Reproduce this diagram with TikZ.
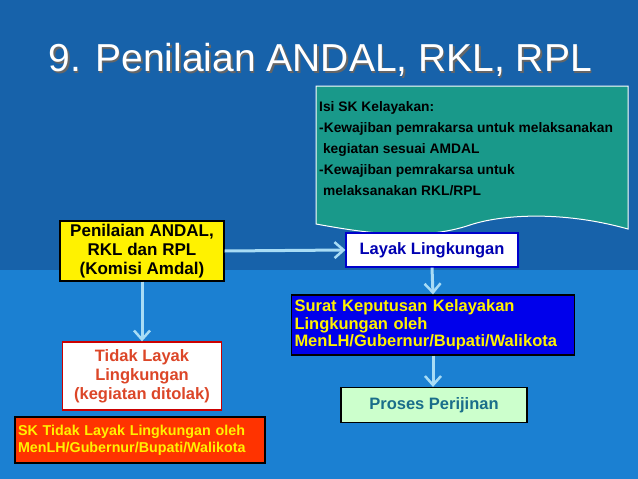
\documentclass[tikz,border=0pt]{standalone}
\usepackage{fontspec}
\setmainfont{Liberation Sans}
\usetikzlibrary{arrows.meta}
\definecolor{bgtop}{HTML}{1762AA}
\definecolor{bgbot}{HTML}{1B80D2}
\definecolor{arr}{HTML}{A8DCF5}
\definecolor{teal}{HTML}{19998A}
\definecolor{prosest}{HTML}{1A6E8A}
\begin{document}
\begin{tikzpicture}[x=1pt,y=-1pt,
  box/.style={draw,line width=1.2pt,inner sep=3pt},
  conn/.style={draw=arr,line width=3pt,-{Straight Barb[length=9pt,width=16pt,line width=2.5pt]}}]
\useasboundingbox (0,0) rectangle (638,479);
\fill[bgtop] (0,0) rectangle (638,270);
\fill[bgbot] (0,270) rectangle (638,479);
\node[anchor=west,text=black!60,font=\fontsize{39}{42}\selectfont] at (46.5,62) {9. Penilaian ANDAL, RKL, RPL};
\node[anchor=west,text=white,font=\fontsize{39}{42}\selectfont] (title) at (45,60) {9. Penilaian ANDAL, RKL, RPL};
\draw[fill=teal,draw=white,line width=1pt] (316,86) -- (628,86) -- (628,229)
  .. controls (560,210) and (500,215) .. (470,225) .. controls (420,242) and (360,232) .. (316,224) -- cycle;
\node[anchor=north west,align=left,font=\bfseries\fontsize{13.8}{21}\selectfont,text=black,inner sep=0pt] (doc) at (319,101)
  {Isi SK Kelayakan:\\-Kewajiban pemrakarsa untuk melaksanakan\\\ kegiatan sesuai AMDAL\\-Kewajiban pemrakarsa untuk\\\ melaksanakan RKL/RPL};
\node[box,fill=yellow,draw=black,align=center,minimum width=164pt,minimum height=60pt,font=\bfseries\fontsize{17}{19}\selectfont] (pen) at (142,251) {Penilaian ANDAL,\\RKL dan RPL\\(Komisi Amdal)};
\node[box,fill=white,draw=blue!80!black,text=blue!70!black,minimum width=172pt,minimum height=34pt,font=\bfseries\fontsize{16.5}{19}\selectfont] (lay) at (432,250) {Layak Lingkungan};
\node[box,fill=white,draw=red!80!black,align=center,minimum width=159pt,minimum height=68pt,font=\bfseries\fontsize{16.5}{19}\selectfont,text={rgb,255:red,220;green,70;blue,40}] (tid) at (142,376) {Tidak Layak\\Lingkungan\\(kegiatan ditolak)};
\node[box,fill={rgb,255:red,255;green,51;blue,0},draw=black,text=yellow,align=left,text width=244pt,minimum height=46pt,font=\bfseries\fontsize{14.3}{17}\selectfont] (sktid) at (140,440) {SK Tidak Layak Lingkungan oleh\\MenLH/Gubernur/Bupati/Walikota};
\node[box,fill={rgb,255:red,0;green,0;blue,235},draw=black,text=yellow,align=left,text width=277pt,minimum height=60pt,font=\bfseries\fontsize{16.5}{17.5}\selectfont] (sur) at (433,325) {Surat Keputusan Kelayakan\\Lingkungan oleh\\MenLH/Gubernur/Bupati/Walikota};
\node[box,fill={rgb,255:red,204;green,255;blue,204},draw=black,text=prosest,minimum width=186pt,minimum height=35pt,font=\bfseries\fontsize{16.5}{19}\selectfont] (pro) at (434,405) {Proses Perijinan};
\draw[conn] (pen.east) -- (lay.west);
\draw[conn] (pen.south) -- (tid.north);
\draw[conn] (lay.south) -- (sur.north);
\draw[conn] (sur.south) -- (sur.south |- pro.north);
\end{tikzpicture}
\end{document}
